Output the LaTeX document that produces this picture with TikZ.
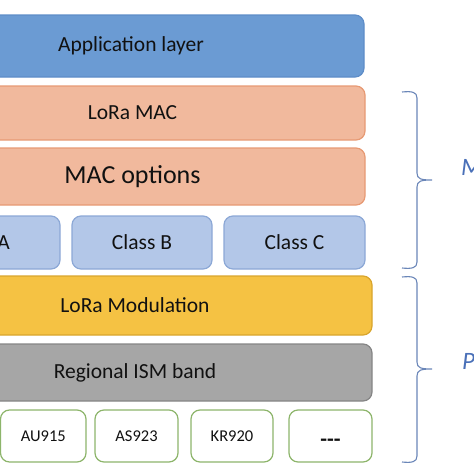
\documentclass[tikz,border=0pt]{standalone}
\usepackage{fontspec}
\setmainfont{Carlito}
\definecolor{appfill}{HTML}{6B9BD3}
\definecolor{appdraw}{HTML}{5E8DC8}
\definecolor{macfill}{HTML}{F1B99D}
\definecolor{macdraw}{HTML}{E79A74}
\definecolor{clsfill}{HTML}{B3C7E8}
\definecolor{clsdraw}{HTML}{8CA8D6}
\definecolor{modfill}{HTML}{F5C243}
\definecolor{moddraw}{HTML}{D9A52C}
\definecolor{ismfill}{HTML}{A6A6A6}
\definecolor{ismdraw}{HTML}{858585}
\definecolor{bandraw}{HTML}{8DB56B}
\definecolor{bracecol}{HTML}{6A86B8}
\definecolor{labcol}{HTML}{4A70B8}
\definecolor{txt}{HTML}{111111}
\tikzset{
  layer/.style={draw, line width=1.2pt, rounded corners=9pt, inner sep=0pt, text=txt,
    font=\fontsize{21.5}{24}\selectfont},
  applayer/.style={layer, fill=appfill, draw=appdraw},
  maclayer/.style={layer, fill=macfill, draw=macdraw},
  classbox/.style={layer, fill=clsfill, draw=clsdraw},
  modlayer/.style={layer, fill=modfill, draw=moddraw},
  ismlayer/.style={layer, fill=ismfill, draw=ismdraw},
  bandbox/.style={layer, fill=white, draw=bandraw, font=\fontsize{16.5}{19}\selectfont},
  bracepath/.style={draw=bracecol, line width=1.1pt},
  sidelabel/.style={text=labcol, font=\fontsize{25}{28}\selectfont\itshape, anchor=west, inner sep=0pt}
}
\begin{document}
\begin{tikzpicture}[x=1pt,y=-1pt]
\useasboundingbox (0,0) rectangle (474,474);
\clip (0,0) rectangle (474,474);
\node[applayer, minimum width=466pt, minimum height=62pt] (app) at (131,46) {Application layer};
\node[maclayer, minimum width=465pt, minimum height=54pt] (lmac) at (132.5,113) {LoRa MAC};
\node[maclayer, minimum width=465pt, minimum height=57pt, font=\fontsize{26}{30}\selectfont] (mopt) at (132.5,176.5) {MAC options};
\node[classbox, minimum width=140pt, minimum height=53pt] (ca) at (-10,242.5) {\hspace*{27pt}A};
\node[classbox, minimum width=140pt, minimum height=53pt] (cb) at (142,242.5) {Class B};
\node[classbox, minimum width=141pt, minimum height=53pt] (cc) at (294.5,242.5) {Class C};
\node[modlayer, minimum width=474pt, minimum height=59pt] (mod) at (135,305.5) {LoRa Modulation};
\node[ismlayer, minimum width=474pt, minimum height=57pt] (ism) at (135,372.5) {Regional ISM band};
\node[bandbox, minimum width=85.5pt, minimum height=52pt] (b1) at (43.25,436) {AU915};
\node[bandbox, minimum width=83pt, minimum height=52pt] (b2) at (136.5,436) {AS923};
\node[bandbox, minimum width=82pt, minimum height=52pt] (b3) at (232,436) {KR920};
\node[bandbox, minimum width=83pt, minimum height=52pt] (b4) at (330.5,436) {\raisebox{-10.5pt}[0pt][0pt]{\fontsize{22}{24}\selectfont\bfseries -{}-{}-}};
% braces
\coordinate (u1) at (402,92);
\coordinate (um) at (432,180);
\coordinate (u2) at (402,268);
\draw[bracepath] (u1) .. controls (412,91) and (417,92) .. (417,98) -- (417,173)
  .. controls (417,179) and (421,180) .. (um)
  .. controls (421,180) and (417,181) .. (417,187) -- (417,262)
  .. controls (417,268) and (412,269) .. (u2);
\coordinate (l1) at (402,277);
\coordinate (lm) at (432,369);
\coordinate (l2) at (402,462);
\draw[bracepath] (l1) .. controls (412,276) and (417,277) .. (417,283) -- (417,362)
  .. controls (417,368) and (421,369) .. (lm)
  .. controls (421,369) and (417,370) .. (417,376) -- (417,456)
  .. controls (417,462) and (412,463) .. (l2);
\node[sidelabel] (mlab) at (461,167) {M};
\node[sidelabel] (plab) at (462,361) {P};
\end{tikzpicture}
\end{document}
